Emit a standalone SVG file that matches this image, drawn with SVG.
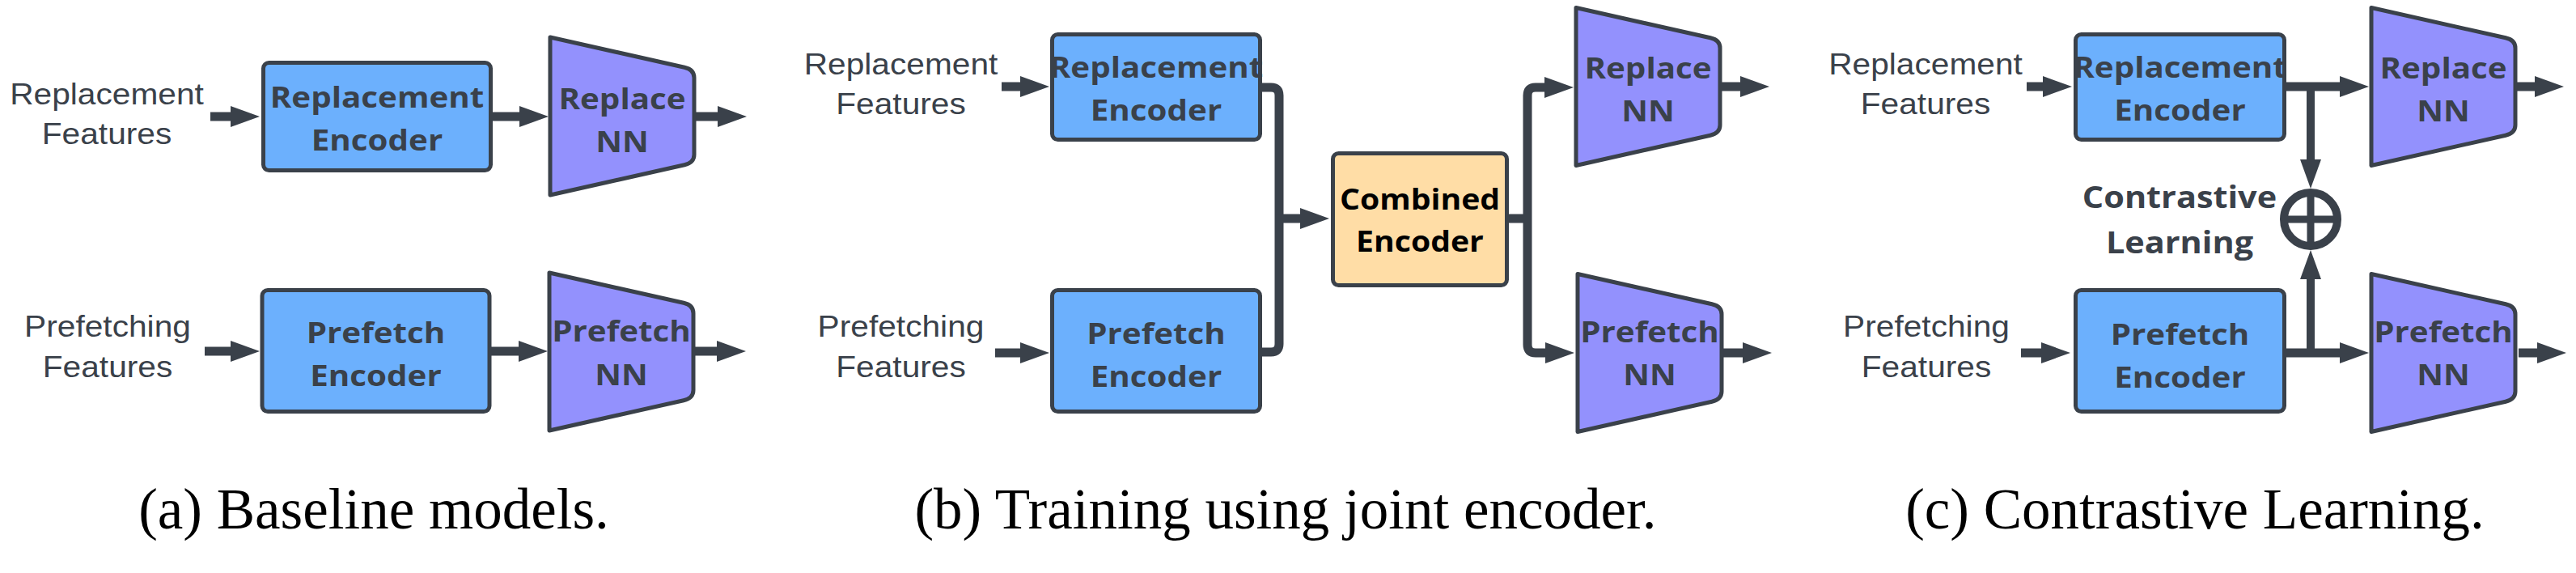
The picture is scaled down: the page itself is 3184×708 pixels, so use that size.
<svg xmlns="http://www.w3.org/2000/svg" width="3184" height="708" viewBox="0 0 3184 708">
<style>
.enc{fill:#6cb0fd;stroke:#3a414a;stroke-width:5}
.cmb{fill:#ffdda6;stroke:#3a414a;stroke-width:5}
.nn{fill:#9391fd;stroke:#3a414a;stroke-width:5;stroke-linejoin:round}
.bt{font-family:"Open Sans",sans-serif;font-weight:700;font-size:36px;fill:#3a414a;text-anchor:middle}
.bk{fill:#000}
.lb{font-family:"Liberation Sans",Arial,sans-serif;font-size:36px;fill:#3a414a;text-anchor:middle}
.cap{font-family:"Liberation Serif","Times New Roman",serif;font-size:71px;fill:#000;text-anchor:middle}
.cn{fill:none;stroke:#3a414a;stroke-width:11}
.ar{marker-end:url(#ah)}
</style>
<defs>
<marker id="ah" markerUnits="userSpaceOnUse" markerWidth="36" markerHeight="26" refX="0" refY="13" orient="auto" viewBox="0 0 36 26"><path d="M0,0 L36,13 L0,26 Z" fill="#3a414a"/></marker>
</defs>
<rect width="3184" height="708" fill="#fff"/>

<g id="connectors">
<path class="cn ar" d="M260,144 H285"/>
<path class="cn ar" d="M609,144 H642"/>
<path class="cn ar" d="M860,144 H887"/>
<path class="cn ar" d="M253,434 H285"/>
<path class="cn ar" d="M606,434 H641"/>
<path class="cn ar" d="M858,434 H886"/>

<path class="cn ar" d="M1238,107 H1261"/>
<path class="cn ar" d="M1230,436 H1261"/>
<path class="cn" d="M1560,108 H1571 Q1581,108 1581,118 V270"/>
<path class="cn" d="M1560,435 H1571 Q1581,435 1581,425 V270"/>
<path class="cn ar" d="M1576,270 H1607"/>
<path class="cn" d="M1865,270 H1893"/>
<path class="cn ar" d="M1888,270 V118 Q1888,108 1898,108 H1909"/>
<path class="cn ar" d="M1888,270 V426 Q1888,436 1898,436 H1910"/>
<path class="cn ar" d="M2126,107 H2151"/>
<path class="cn ar" d="M2128,436 H2154"/>

<path class="cn ar" d="M2505,107 H2525"/>
<path class="cn ar" d="M2498,436 H2523"/>
<path class="cn ar" d="M2826,107 H2892"/>
<path class="cn ar" d="M2856,107 V197" style="stroke-width:10"/>
<path class="cn ar" d="M2826,436 H2892"/>
<path class="cn ar" d="M2856,436 V345" style="stroke-width:10"/>
<path class="cn ar" d="M3109,107 H3133"/>
<path class="cn ar" d="M3113,436 H3136"/>
</g>

<!-- (a) -->
<g id="a-rep-label"><text class="lb" transform="matrix(1.13 0 0 1 132 0)"><tspan x="0" y="129">Replacement</tspan><tspan x="0" y="178.5">Features</tspan></text></g>
<g id="a-pre-label"><text class="lb" transform="matrix(1.13 0 0 1 133 0)"><tspan x="0" y="416">Prefetching</tspan><tspan x="0" y="466">Features</tspan></text></g>
<g id="a-rep-enc"><rect class="enc" x="325.5" y="77.5" width="281" height="133" rx="7"/><text class="bt" transform="matrix(1.12 0 0 1 466 0)"><tspan x="0" y="133">Replacement</tspan><tspan x="0" y="186">Encoder</tspan></text></g>
<g id="a-pre-enc"><rect class="enc" x="324" y="358.5" width="281" height="150" rx="7"/><text class="bt" transform="matrix(1.12 0 0 1 464.5 0)"><tspan x="0" y="424">Prefetch</tspan><tspan x="0" y="477">Encoder</tspan></text></g>
<g id="a-rep-nn"><path class="nn" d="M680,46 L846,83.3 Q858,86 858,96 L858,191 Q858,201 846,203.7 L680,241 Z"/><text class="bt" transform="matrix(1.12 0 0 1 769 0)"><tspan x="0" y="135">Replace</tspan><tspan x="0" y="188">NN</tspan></text></g>
<g id="a-pre-nn"><path class="nn" d="M679,337 L845,374.3 Q857,377 857,387 L857,482 Q857,492 845,494.7 L679,532 Z"/><text class="bt" transform="matrix(1.12 0 0 1 768 0)"><tspan x="0" y="422">Prefetch</tspan><tspan x="0" y="476">NN</tspan></text></g>

<!-- (b) -->
<g id="b-rep-label"><text class="lb" transform="matrix(1.13 0 0 1 1113.5 0)"><tspan x="0" y="92">Replacement</tspan><tspan x="0" y="141">Features</tspan></text></g>
<g id="b-pre-label"><text class="lb" transform="matrix(1.13 0 0 1 1113.5 0)"><tspan x="0" y="416">Prefetching</tspan><tspan x="0" y="466">Features</tspan></text></g>
<g id="b-rep-enc"><rect class="enc" x="1300.5" y="42.5" width="257" height="130" rx="7"/><text class="bt" transform="matrix(1.12 0 0 1 1429 0)"><tspan x="0" y="96">Replacement</tspan><tspan x="0" y="149">Encoder</tspan></text></g>
<g id="b-pre-enc"><rect class="enc" x="1300.5" y="358.5" width="257" height="150" rx="7"/><text class="bt" transform="matrix(1.12 0 0 1 1429 0)"><tspan x="0" y="425">Prefetch</tspan><tspan x="0" y="478">Encoder</tspan></text></g>
<g id="b-combined"><rect class="cmb" x="1647.5" y="189.5" width="215" height="163" rx="7"/><text class="bt bk" style="font-size:35px" transform="matrix(1.12 0 0 1 1755 0)"><tspan x="0" y="259">Combined</tspan><tspan x="0" y="311">Encoder</tspan></text></g>
<g id="b-rep-nn"><path class="nn" d="M1948,9.5 L2114,46.8 Q2126,49.5 2126,59.5 L2126,154.5 Q2126,164.5 2114,167.2 L1948,204.5 Z"/><text class="bt" transform="matrix(1.12 0 0 1 2037 0)"><tspan x="0" y="97">Replace</tspan><tspan x="0" y="150">NN</tspan></text></g>
<g id="b-pre-nn"><path class="nn" d="M1950,338.5 L2116,375.8 Q2128,378.5 2128,388.5 L2128,483.5 Q2128,493.5 2116,496.2 L1950,533.5 Z"/><text class="bt" transform="matrix(1.12 0 0 1 2039 0)"><tspan x="0" y="423">Prefetch</tspan><tspan x="0" y="476">NN</tspan></text></g>

<!-- (c) -->
<g id="c-rep-label"><text class="lb" transform="matrix(1.13 0 0 1 2380 0)"><tspan x="0" y="92">Replacement</tspan><tspan x="0" y="141">Features</tspan></text></g>
<g id="c-pre-label"><text class="lb" transform="matrix(1.13 0 0 1 2381 0)"><tspan x="0" y="416">Prefetching</tspan><tspan x="0" y="466">Features</tspan></text></g>
<g id="c-rep-enc"><rect class="enc" x="2565.5" y="42.5" width="258" height="130" rx="7"/><text class="bt" transform="matrix(1.12 0 0 1 2694.5 0)"><tspan x="0" y="96">Replacement</tspan><tspan x="0" y="149">Encoder</tspan></text></g>
<g id="c-pre-enc"><rect class="enc" x="2565.5" y="358.5" width="258" height="150" rx="7"/><text class="bt" transform="matrix(1.12 0 0 1 2694.5 0)"><tspan x="0" y="426">Prefetch</tspan><tspan x="0" y="479">Encoder</tspan></text></g>
<g id="c-sum"><circle cx="2856" cy="271" r="33" fill="#fff" stroke="#3a414a" stroke-width="10"/><path d="M2823,271 H2889 M2856,238 V304" stroke="#3a414a" stroke-width="9" fill="none"/></g>
<g id="c-contrastive-label"><text class="bt" style="font-size:37px" transform="matrix(1.12 0 0 1 2694 0)"><tspan x="0" y="257">Contrastive</tspan><tspan x="0" y="313">Learning</tspan></text></g>
<g id="c-rep-nn"><path class="nn" d="M2931,9.5 L3097,46.8 Q3109,49.5 3109,59.5 L3109,154.5 Q3109,164.5 3097,167.2 L2931,204.5 Z"/><text class="bt" transform="matrix(1.12 0 0 1 3020 0)"><tspan x="0" y="97">Replace</tspan><tspan x="0" y="150">NN</tspan></text></g>
<g id="c-pre-nn"><path class="nn" d="M2931,338.5 L3097,375.8 Q3109,378.5 3109,388.5 L3109,483.5 Q3109,493.5 3097,496.2 L2931,533.5 Z"/><text class="bt" transform="matrix(1.12 0 0 1 3020 0)"><tspan x="0" y="423">Prefetch</tspan><tspan x="0" y="476">NN</tspan></text></g>

<g id="captions">
<text class="cap" x="462" y="653">(a) Baseline models.</text>
<text class="cap" x="1589" y="653">(b) Training using joint encoder.</text>
<text class="cap" x="2713" y="653">(c) Contrastive Learning.</text>
</g>
</svg>
